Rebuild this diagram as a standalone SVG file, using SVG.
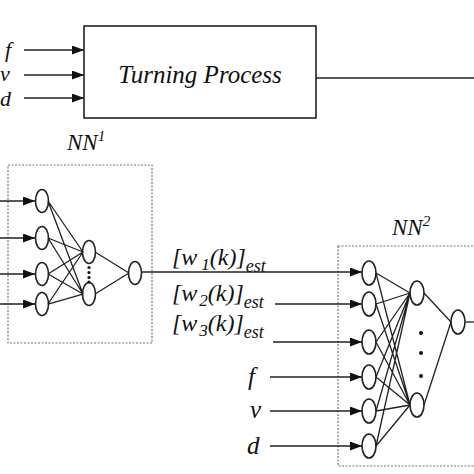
<svg xmlns="http://www.w3.org/2000/svg" width="474" height="474" viewBox="0 0 474 474">
<defs>
<marker id="ah" markerUnits="userSpaceOnUse" markerWidth="13" markerHeight="9" refX="12" refY="4.5" orient="auto">
<path d="M0,0 L12,4.5 L0,9 Z" fill="#111"/>
</marker>
<style>
.ln{stroke:#222;stroke-width:1.3;fill:none}
.ar{stroke:#222;stroke-width:1.6;fill:none;marker-end:url(#ah)}
.nd{fill:#fff;stroke:#222;stroke-width:1.6}
.box{fill:none;stroke:#777;stroke-width:1.2;stroke-dasharray:2,1.5}
</style>
</defs>
<rect width="474" height="474" fill="#fff"/>

<g id="process">
<rect x="84" y="26" width="232" height="92" fill="#fff" stroke="#222" stroke-width="1.6"/>
<text font-family="Liberation Serif, Times New Roman, serif" font-style="italic" fill="#111" x="200" y="83" font-size="25" text-anchor="middle">Turning Process</text>
</g>
<g id="top-labels" font-family="Liberation Serif, Times New Roman, serif" font-style="italic" fill="#111" font-size="22">
<text x="5" y="57">f</text>
<text x="0" y="81">v</text>
<text x="0" y="106">d</text>
</g>

<g id="nn1">
<rect class="box" x="8" y="165" width="144" height="178"/>
<text font-family="Liberation Serif, Times New Roman, serif" font-style="italic" fill="#111" x="67" y="150" font-size="23">NN<tspan font-size="15" dy="-9">1</tspan></text>
<g id="nn1-nodes">
<ellipse class="nd" cx="42" cy="201" rx="6.5" ry="11.5"/>
<ellipse class="nd" cx="42" cy="238" rx="6.5" ry="11.5"/>
<ellipse class="nd" cx="42" cy="274" rx="6.5" ry="11.5"/>
<ellipse class="nd" cx="42" cy="304" rx="6.5" ry="11.5"/>
<ellipse class="nd" cx="89" cy="252" rx="6.5" ry="11.5"/>
<ellipse class="nd" cx="89" cy="294" rx="6.5" ry="11.5"/>
<ellipse class="nd" cx="135" cy="273" rx="6.5" ry="11.5"/>
<circle cx="89" cy="267.5" r="1.6" fill="#111"/>
<circle cx="89" cy="272.5" r="1.6" fill="#111"/>
<circle cx="89" cy="277.5" r="1.6" fill="#111"/>
<circle cx="89" cy="282" r="1.6" fill="#111"/>
</g>
</g>

<g id="nn2">
<rect class="box" x="338" y="246" width="145" height="220"/>
<text font-family="Liberation Serif, Times New Roman, serif" font-style="italic" fill="#111" x="392" y="235" font-size="23">NN<tspan font-size="15" dy="-9">2</tspan></text>
<g id="nn2-nodes">
<ellipse class="nd" cx="369" cy="273" rx="7" ry="12"/>
<ellipse class="nd" cx="369" cy="304" rx="7" ry="12"/>
<ellipse class="nd" cx="369" cy="342" rx="7" ry="12"/>
<ellipse class="nd" cx="369" cy="377" rx="7" ry="12"/>
<ellipse class="nd" cx="369" cy="411" rx="7" ry="12"/>
<ellipse class="nd" cx="369" cy="446" rx="7" ry="12"/>
<ellipse class="nd" cx="417" cy="293" rx="7" ry="12"/>
<ellipse class="nd" cx="417" cy="405" rx="7" ry="12"/>
<ellipse class="nd" cx="458" cy="322" rx="7" ry="12"/>
<circle cx="421" cy="333" r="2" fill="#111"/>
<circle cx="421" cy="353" r="2" fill="#111"/>
<circle cx="421" cy="376" r="2" fill="#111"/>
</g>
</g>

<g id="labels" font-family="Liberation Serif, Times New Roman, serif" font-style="italic" fill="#111">
<text x="172" y="265" font-size="24">[w<tspan font-size="17" dx="4" dy="5">1</tspan><tspan dy="-5">(k)]</tspan><tspan font-size="18" dy="7">est</tspan></text>
<text x="172" y="301" font-size="24">[w<tspan font-size="17" dx="2" dy="5">2</tspan><tspan dy="-5">(k)]</tspan><tspan font-size="18" dy="7">est</tspan></text>
<text x="172" y="331" font-size="24">[w<tspan font-size="17" dx="2" dy="5">3</tspan><tspan dy="-5">(k)]</tspan><tspan font-size="18" dy="7">est</tspan></text>
<text x="248" y="385" font-size="25">f</text>
<text x="250" y="418" font-size="25">v</text>
<text x="247" y="454" font-size="25">d</text>
</g>

<g id="connectors">
<line class="ar" x1="24" y1="50" x2="84" y2="50"/>
<line class="ar" x1="24" y1="75" x2="84" y2="75"/>
<line class="ar" x1="24" y1="98" x2="84" y2="98"/>
<line class="ln" x1="316" y1="78" x2="474" y2="78" stroke-width="1.6"/>

<line class="ar" x1="0" y1="201" x2="35" y2="201"/>
<line class="ar" x1="0" y1="238" x2="35" y2="238"/>
<line class="ar" x1="0" y1="274" x2="35" y2="274"/>
<line class="ar" x1="0" y1="304" x2="35" y2="304"/>

<path class="ln" d="M48,201 L83,252 M48,201 L83,294 M48,238 L83,252 M48,238 L83,294 M48,274 L83,252 M48,274 L83,294 M48,304 L83,252 M48,304 L83,294 M95,252 L129,273 M95,294 L129,273"/>

<line class="ar" x1="141" y1="272" x2="362" y2="272"/>
<line class="ar" x1="275" y1="304" x2="362" y2="304"/>
<line class="ar" x1="273" y1="342" x2="362" y2="342"/>
<line class="ar" x1="270" y1="377" x2="362" y2="377"/>
<line class="ar" x1="270" y1="411" x2="362" y2="411"/>
<line class="ar" x1="270" y1="446" x2="362" y2="446"/>

<path class="ln" d="M376,273 L410,293 M376,273 L410,405 M376,304 L410,293 M376,304 L410,405 M376,342 L410,293 M376,342 L410,405 M376,377 L410,293 M376,377 L410,405 M376,411 L410,293 M376,411 L410,405 M376,446 L410,293 M376,446 L410,405 M424,293 L451,322 M424,405 L451,322"/>
<line class="ln" x1="465" y1="322" x2="474" y2="322" stroke-width="1.6"/>
</g>
</svg>
